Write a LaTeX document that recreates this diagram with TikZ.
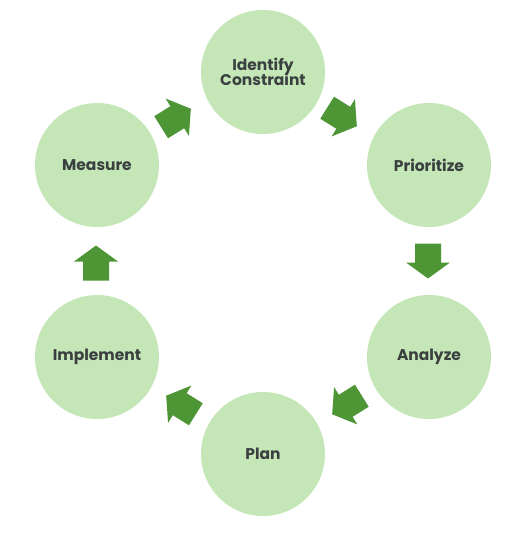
\documentclass[tikz,border=0pt]{standalone}
\usepackage{fontspec}
\setmainfont{Poppins}
\definecolor{circfill}{HTML}{C5E7B8}
\definecolor{arrfill}{HTML}{4E9536}
\definecolor{txtcol}{HTML}{3A3F3F}
\tikzset{
  stage/.style={circle, fill=circfill, minimum size=124pt, inner sep=0pt, align=center,
    text=txtcol, font=\fontsize{15.5}{13.5}\selectfont\bfseries},
  blockarrow/.pic={\fill[arrfill] (-17.5,-13) -- (1.5,-13) -- (1.5,-22) -- (17.5,0) -- (1.5,22) -- (1.5,13) -- (-17.5,13) -- cycle;}
}
\begin{document}
\begin{tikzpicture}[x=1pt,y=-1pt]
\useasboundingbox (0,0) rectangle (531,538);
\node[stage] (identify) at (263,72) {Identify\\[-3pt]Constraint};
\node[stage] (prioritize) at (429,165) {Prioritize};
\node[stage] (analyze) at (429,357) {Analyze};
\node[stage] (plan) at (263,454) {Plan};
\node[stage] (implement) at (97,357) {Implement};
\node[stage] (measure) at (97,165) {Measure};
\pic[rotate=-32] at (342,117) {blockarrow};
\pic[rotate=-90] at (428,261) {blockarrow};
\pic[rotate=-148] at (347,405) {blockarrow};
\pic[rotate=148] at (181,405) {blockarrow};
\pic[rotate=90] at (96,263) {blockarrow};
\pic[rotate=32] at (176,118) {blockarrow};
\end{tikzpicture}
\end{document}
